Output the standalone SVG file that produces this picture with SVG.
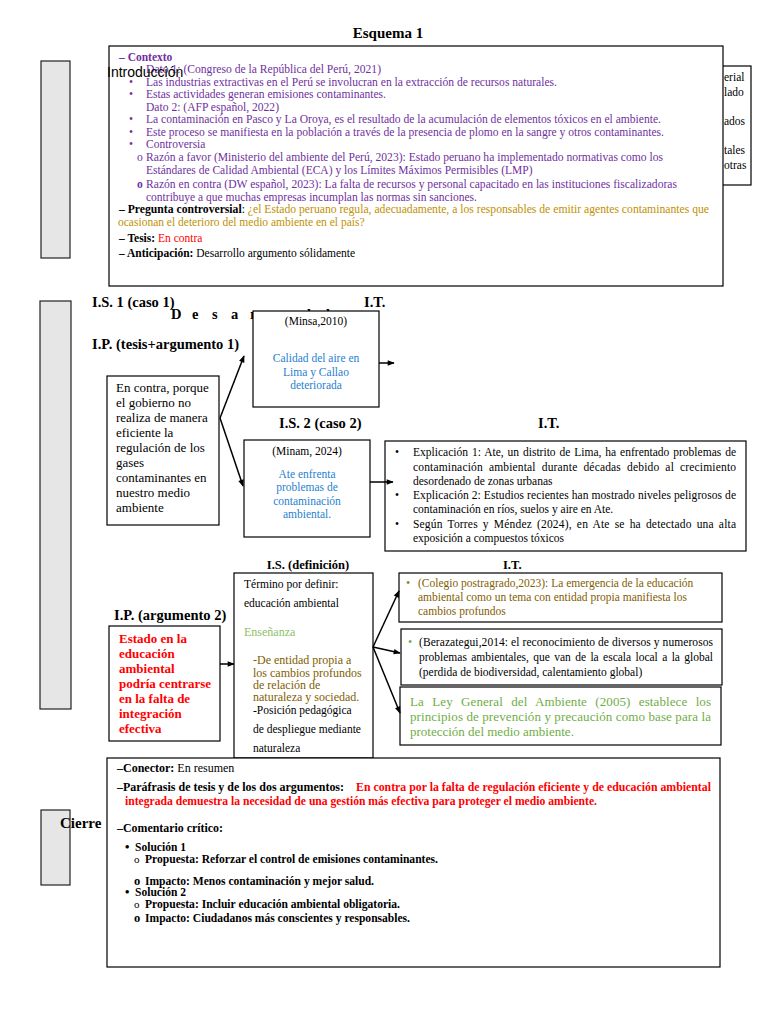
<svg xmlns="http://www.w3.org/2000/svg" width="768" height="1024" viewBox="0 0 768 1024">
<style>
text{font-family:"Liberation Serif","Times New Roman",serif;fill:#000}
.b{font-weight:bold}
.box{fill:#fff;stroke:#000;stroke-width:1.2}
.grey{fill:#e6e6e6;stroke:#222;stroke-width:1.2}
.pu{fill:#7030A0;font-size:11.5px}
.i{font-size:11.5px}
.gold{fill:#BF9000}
.red{fill:#FF0000}
.blue{fill:#1F7FD0}
.brown{fill:#7F6000}
.green{fill:#70AD47}
.lgreen{fill:#8CC068}
.h{font-size:14.5px;font-weight:bold}
.t11{font-size:11.5px}
.t12{font-size:12px}
.c{font-size:12.5px;font-weight:bold}
.conn line{stroke:#000;stroke-width:1.5;marker-end:url(#ah)}
</style>
<defs>
<marker id="ah" viewBox="0 0 10 10" refX="9" refY="5" markerWidth="8" markerHeight="7" orient="auto" markerUnits="userSpaceOnUse">
<path d="M0,1 L10,5 L0,9 z" fill="#000"/>
</marker>
</defs>
<rect width="768" height="1024" fill="#fff"/>

<text x="388" y="38" text-anchor="middle" class="b" style="font-size:15px">Esquema 1</text>

<!-- left grey bars -->
<g id="bar-intro"><rect class="grey" x="41" y="61" width="29" height="197"/></g>
<g id="bar-desarrollo"><rect class="grey" x="40" y="301" width="31" height="408"/></g>
<g id="bar-cierre"><rect class="grey" x="41" y="810" width="29" height="75"/></g>

<!-- hidden right box -->
<g id="hidden-box">
<rect class="box" x="700" y="66" width="51" height="119"/>
<text class="t11" x="724" y="81">erial</text>
<text class="t11" x="724" y="96">lado</text>
<text class="t11" x="724" y="125">ados</text>
<text class="t11" x="724" y="154">tales</text>
<text class="t11" x="724" y="169">otras</text>
</g>

<!-- Introduction box -->
<g id="introduccion">
<rect class="box" x="109" y="46" width="614" height="240"/>
<text class="pu b" x="119" y="61">– Contexto</text>
<text class="pu" x="146" y="73" textLength="235" lengthAdjust="spacingAndGlyphs">Dato 1: (Congreso de la República del Perú, 2021)</text>
<text class="pu" x="129" y="86">•</text>
<text class="pu" x="146" y="86" textLength="411" lengthAdjust="spacingAndGlyphs">Las industrias extractivas en el Perú se involucran en la extracción de recursos naturales.</text>
<text class="pu" x="129" y="98">•</text>
<text class="pu" x="146" y="98" textLength="240" lengthAdjust="spacingAndGlyphs">Estas actividades generan emisiones contaminantes.</text>
<text class="pu" x="146" y="111" textLength="133" lengthAdjust="spacingAndGlyphs">Dato 2: (AFP español, 2022)</text>
<text class="pu" x="129" y="123">•</text>
<text class="pu" x="146" y="123" textLength="515" lengthAdjust="spacingAndGlyphs">La contaminación en Pasco y La Oroya, es el resultado de la acumulación de elementos tóxicos en el ambiente.</text>
<text class="pu" x="129" y="136">•</text>
<text class="pu" x="146" y="136" textLength="518" lengthAdjust="spacingAndGlyphs">Este proceso se manifiesta en la población a través de la presencia de plomo en la sangre y otros contaminantes.</text>
<text class="pu" x="129" y="148">•</text>
<text class="pu" x="146" y="148">Controversia</text>
<text class="pu" x="137" y="161">o</text>
<text class="pu" x="146" y="161" textLength="517" lengthAdjust="spacingAndGlyphs">Razón a favor (Ministerio del ambiente del Perú, 2023): Estado peruano ha implementado normativas como los</text>
<text class="pu" x="146" y="174">Estándares de Calidad Ambiental (ECA) y los Límites Máximos Permisibles (LMP)</text>
<text class="pu b" x="137" y="188">o</text>
<text class="pu" x="146" y="188" textLength="531" lengthAdjust="spacingAndGlyphs">Razón en contra (DW español, 2023): La falta de recursos y personal capacitado en las instituciones fiscalizadoras</text>
<text class="pu" x="146" y="201">contribuye a que muchas empresas incumplan las normas sin sanciones.</text>
<text class="i" x="119" y="213" textLength="590" lengthAdjust="spacingAndGlyphs"><tspan class="b">– Pregunta controversial</tspan>: <tspan class="gold">¿el Estado peruano regula, adecuadamente, a los responsables de emitir agentes contaminantes que</tspan></text>
<text class="i gold" x="118" y="226">ocasionan el deterioro del medio ambiente en el país?</text>
<text class="i" x="119" y="242"><tspan class="b">– Tesis: </tspan><tspan class="red">En contra</tspan></text>
<text class="i" x="119" y="257"><tspan class="b">– Anticipación: </tspan>Desarrollo argumento sólidamente</text>
</g>
<text x="107" y="77" style="font-family:'Liberation Sans',Arial,sans-serif;font-size:14px">Introducción</text>

<!-- Desarrollo headers -->
<g id="desarrollo-labels">
<text class="h" x="92" y="307">I.S. 1 (caso 1)</text>
<text class="h" x="171 192 212 231 250 269 288 307 326 345" y="319">Desarrollo</text>
<text class="h" x="364" y="307">I.T.</text>
<text class="h" x="92" y="349">I.P. (tesis+argumento 1)</text>
<text class="h" x="279" y="428">I.S. 2 (caso 2)</text>
<text class="h" x="538" y="428">I.T.</text>
</g>

<g id="ip1">
<rect class="box" x="107" y="376" width="112" height="149"/>
<text x="116" y="392" style="font-size:13px">En contra, porque</text>
<text x="116" y="407" style="font-size:13px">el gobierno no</text>
<text x="116" y="422" style="font-size:13px">realiza de manera</text>
<text x="116" y="437" style="font-size:13px">eficiente la</text>
<text x="116" y="452" style="font-size:13px">regulación de los</text>
<text x="116" y="467" style="font-size:13px">gases</text>
<text x="116" y="482" style="font-size:13px">contaminantes en</text>
<text x="116" y="497" style="font-size:13px">nuestro medio</text>
<text x="116" y="512" style="font-size:13px">ambiente</text>
</g>

<g id="is1">
<rect class="box" x="253" y="311" width="126" height="96"/>
<text class="t11" x="316" y="325" text-anchor="middle">(Minsa,2010)</text>
<text class="t11 blue" x="316" y="362" text-anchor="middle">Calidad del aire en</text>
<text class="t11 blue" x="316" y="376" text-anchor="middle">Lima y Callao</text>
<text class="t11 blue" x="316" y="389" text-anchor="middle">deteriorada</text>
</g>

<g id="is2">
<rect class="box" x="244" y="440" width="126" height="97"/>
<text class="t11" x="307" y="455" text-anchor="middle">(Minam, 2024)</text>
<text class="t11 blue" x="307" y="478" text-anchor="middle">Ate enfrenta</text>
<text class="t11 blue" x="307" y="491" text-anchor="middle">problemas de</text>
<text class="t11 blue" x="307" y="505" text-anchor="middle">contaminación</text>
<text class="t11 blue" x="307" y="518" text-anchor="middle">ambiental.</text>
</g>

<g id="it2">
<rect class="box" x="385" y="441" width="361" height="110"/>
<text class="t11" x="395" y="456">•</text>
<text class="t11" x="413" y="456" word-spacing="1" textLength="323" lengthAdjust="spacing">Explicación 1: Ate, un distrito de Lima, ha enfrentado problemas de</text>
<text class="t11" x="413" y="471" word-spacing="3" textLength="323" lengthAdjust="spacing">contaminación ambiental durante décadas debido al crecimiento</text>
<text class="t11" x="413" y="485">desordenado de zonas urbanas</text>
<text class="t11" x="395" y="499">•</text>
<text class="t11" x="413" y="499" textLength="323" lengthAdjust="spacing">Explicación 2: Estudios recientes han mostrado niveles peligrosos de</text>
<text class="t11" x="413" y="513">contaminación en ríos, suelos y aire en Ate.</text>
<text class="t11" x="395" y="528">•</text>
<text class="t11" x="413" y="528" word-spacing="2" textLength="323" lengthAdjust="spacing">Según Torres y Méndez (2024), en Ate se ha detectado una alta</text>
<text class="t11" x="413" y="542">exposición a compuestos tóxicos</text>
</g>

<!-- argument 2 -->
<g id="arg2-labels">
<text class="b" x="308" y="569" text-anchor="middle" style="font-size:12.5px">I.S. (definición)</text>
<text class="b" x="503" y="569" style="font-size:12.5px">I.T.</text>
<text class="h" x="114" y="620">I.P. (argumento 2)</text>
</g>

<g id="ip2">
<rect class="box" x="109" y="626" width="111" height="115"/>
<text class="b red" x="119" y="643" style="font-size:13px">Estado en la</text>
<text class="b red" x="119" y="658" style="font-size:13px">educación</text>
<text class="b red" x="119" y="673" style="font-size:13px">ambiental</text>
<text class="b red" x="119" y="688" style="font-size:13px">podría centrarse</text>
<text class="b red" x="119" y="703" style="font-size:13px">en la falta de</text>
<text class="b red" x="119" y="718" style="font-size:13px">integración</text>
<text class="b red" x="119" y="733" style="font-size:13px">efectiva</text>
</g>

<g id="is-def">
<rect class="box" x="234" y="573" width="139" height="185"/>
<text class="t11" x="244" y="588">Término por definir:</text>
<text class="t11" x="244" y="607">educación ambiental</text>
<text class="t12 lgreen" x="244" y="636">Enseñanza</text>
<text class="t12 brown" x="253" y="664">-De entidad propia a</text>
<text class="t12 brown" x="253" y="677">los cambios profundos</text>
<text class="t12 brown" x="253" y="689">de relación de</text>
<text class="t12 brown" x="253" y="701">naturaleza y sociedad.</text>
<text class="t11" x="253" y="714">-Posición pedagógica</text>
<text class="t11" x="253" y="733">de despliegue mediante</text>
<text class="t11" x="253" y="752">naturaleza</text>
</g>

<g id="it-def1">
<rect class="box" x="399" y="573" width="323" height="49"/>
<text class="t12" x="406" y="587" style="fill:#8A8A2A">•</text>
<text class="t11 brown" x="418" y="587">(Colegio postragrado,2023): La emergencia de la educación</text>
<text class="t11 brown" x="418" y="601">ambiental como un tema con entidad propia manifiesta los</text>
<text class="t11 brown" x="418" y="615">cambios profundos</text>
</g>

<g id="it-def2">
<rect class="box" x="401" y="629" width="321" height="56"/>
<text class="t12 green" x="408" y="646">•</text>
<text class="t11" x="419" y="646" textLength="294" lengthAdjust="spacing">(Berazategui,2014: el reconocimiento de diversos y numerosos</text>
<text class="t11" x="419" y="661" word-spacing="1.5" textLength="294" lengthAdjust="spacing">problemas ambientales, que van de la escala local a la global</text>
<text class="t11" x="419" y="676">(perdida de biodiversidad, calentamiento global)</text>
</g>

<g id="it-def3">
<rect class="box" x="400" y="687" width="321" height="58"/>
<text class="green" x="410" y="706" style="font-size:13px" word-spacing="5" textLength="301" lengthAdjust="spacing">La Ley General del Ambiente (2005) establece los</text>
<text class="green" x="410" y="721" style="font-size:13px" textLength="301" lengthAdjust="spacing">principios de prevención y precaución como base para la</text>
<text class="green" x="410" y="736" style="font-size:13px">protección del medio ambiente.</text>
</g>

<!-- Cierre -->
<g id="cierre">
<rect class="box" x="107" y="758" width="613" height="209"/>
<text x="117" y="772" style="font-size:12px"><tspan class="b">–Conector:</tspan> En resumen</text>
<text class="c" x="117" y="791" textLength="227" lengthAdjust="spacingAndGlyphs">–Paráfrasis de tesis y de los dos argumentos:</text>
<text class="c red" x="356" y="791" textLength="355" lengthAdjust="spacingAndGlyphs">En contra por la falta de regulación eficiente y de educación ambiental</text>
<text class="c red" x="125" y="805" textLength="472" lengthAdjust="spacingAndGlyphs">integrada demuestra la necesidad de una gestión más efectiva para proteger el medio ambiente.</text>
<text class="c" x="117" y="832" textLength="106" lengthAdjust="spacingAndGlyphs">–Comentario crítico:</text>
<text class="c" x="125" y="851">•</text>
<text class="c" x="135" y="851" textLength="51" lengthAdjust="spacingAndGlyphs">Solución 1</text>
<text x="134" y="863" style="font-size:11px">o</text>
<text class="c" x="145" y="863" textLength="293" lengthAdjust="spacingAndGlyphs">Propuesta: Reforzar el control de emisiones contaminantes.</text>
<text class="c" x="134" y="885">o</text>
<text class="c" x="145" y="885" textLength="229" lengthAdjust="spacingAndGlyphs">Impacto: Menos contaminación y mejor salud.</text>
<text class="c" x="125" y="896">•</text>
<text class="c" x="135" y="896" textLength="51" lengthAdjust="spacingAndGlyphs">Solución 2</text>
<text x="134" y="908" style="font-size:11px">o</text>
<text class="c" x="145" y="908" textLength="255" lengthAdjust="spacingAndGlyphs">Propuesta: Incluir educación ambiental obligatoria.</text>
<text class="c" x="134" y="922">o</text>
<text class="c" x="145" y="922" textLength="265" lengthAdjust="spacingAndGlyphs">Impacto: Ciudadanos más conscientes y responsables.</text>
</g>
<text class="b" x="60" y="828" style="font-size:15px">Cierre</text>

<!-- connectors -->
<g id="connectors" class="conn">
<line x1="220" y1="418" x2="244" y2="356"/>
<line x1="220" y1="418" x2="243" y2="486"/>
<line x1="379" y1="363" x2="394" y2="363"/>
<line x1="370" y1="482" x2="393" y2="482"/>
<line x1="220" y1="664" x2="234" y2="664"/>
<line x1="373" y1="647" x2="399" y2="591"/>
<line x1="373" y1="647" x2="400" y2="653"/>
<line x1="373" y1="647" x2="400" y2="713"/>
</g>
</svg>
